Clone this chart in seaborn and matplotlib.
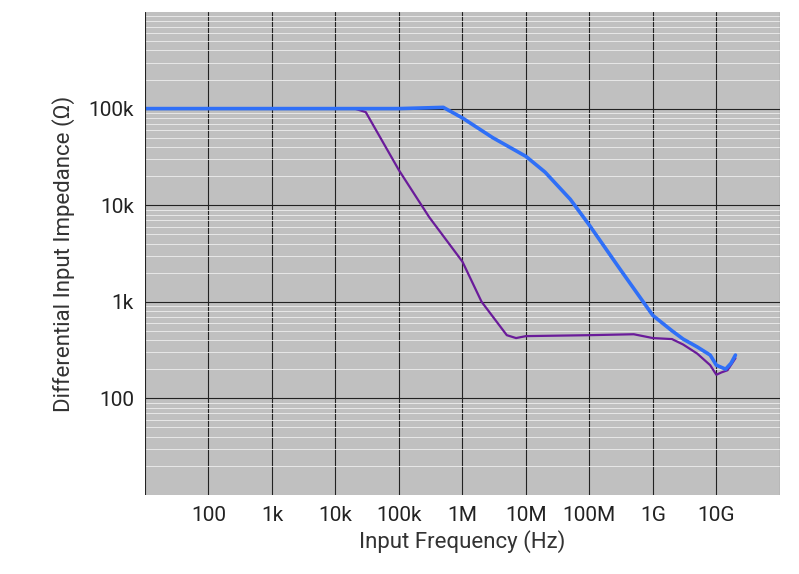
import numpy as np
import matplotlib.pyplot as plt
import seaborn as sns
from matplotlib.ticker import FixedLocator, LogLocator, NullFormatter

sns.set_theme(style="white")
plt.rcParams['font.family'] = ['Roboto', 'DejaVu Sans']

# (Hz, Ohm)
purple_f = [10, 1e3, 1e4, 2e4, 3e4, 1e5, 3e5, 1e6, 2e6, 5e6, 7e6, 1e7, 1e8, 5e8, 1e9, 2e9, 3e9, 5e9, 8e9, 1e10, 1.2e10, 1.5e10, 2e10]
purple_z = [1e5, 1e5, 1e5, 1e5, 9.2e4, 2.3e4, 7.5e3, 2.6e3, 1.0e3, 450, 420, 440, 450, 460, 420, 410, 360, 290, 220, 175, 185, 195, 260]
blue_f = [10, 1e4, 1e5, 3e5, 5e5, 1e6, 3e6, 1e7, 2e7, 5e7, 1e8, 3e8, 1e9, 2e9, 3e9, 5e9, 8e9, 1e10, 1.4e10, 1.7e10, 2e10]
blue_z = [1e5, 1e5, 1e5, 1.02e5, 1.03e5, 8.0e4, 5.0e4, 3.2e4, 2.2e4, 1.15e4, 6.2e3, 2.2e3, 720, 500, 410, 340, 280, 220, 200, 230, 280]

fig = plt.figure(figsize=(7.99, 5.74), dpi=100)
ax = fig.add_axes([0.1815, 0.138, 0.7945, 0.841])
ax.set_facecolor('#c0c0c0')

sns.lineplot(x=purple_f, y=purple_z, ax=ax, color='#6a1b9a', linewidth=1.6)
sns.lineplot(x=blue_f, y=blue_z, ax=ax, color='#2f6ff7', linewidth=2.6)

ax.set_xscale('log')
ax.set_yscale('log')
ax.set_xlim(10, 1e11)
ax.set_ylim(10, 1e6)

xt = [1e2, 1e3, 1e4, 1e5, 1e6, 1e7, 1e8, 1e9, 1e10]
xl = ['100', '1k', '10k', '100k', '1M', '10M', '100M', '1G', '10G']
yt = [1e2, 1e3, 1e4, 1e5]
yl = ['100', '1k', '10k', '100k']
ax.set_xticks(xt)
ax.set_xticklabels(xl)
ax.set_yticks(yt)
ax.set_yticklabels(yl)
ax.xaxis.set_minor_formatter(NullFormatter())
ax.yaxis.set_minor_locator(LogLocator(base=10, subs=np.arange(2, 10)))
ax.yaxis.set_minor_formatter(NullFormatter())
ax.xaxis.set_minor_locator(FixedLocator([]))

ax.grid(True, which='major', axis='both', color='#222222', linewidth=0.8)
ax.grid(True, which='minor', axis='y', color='#eeeeee', linewidth=0.6)
for x in [10, 1e11]:
    ax.axvline(x, color='#222222', linewidth=0.8)
for s in ax.spines.values():
    s.set_visible(False)
ax.tick_params(axis='both', labelsize=15, colors='#222222', length=0, pad=8)

ax.set_xlabel('Input Frequency (Hz)', fontsize=16, color='#333333')
ax.set_ylabel('Differential Input Impedance (Ω)', fontsize=16, color='#333333', labelpad=10)

fig.savefig('out.png', dpi=100)
